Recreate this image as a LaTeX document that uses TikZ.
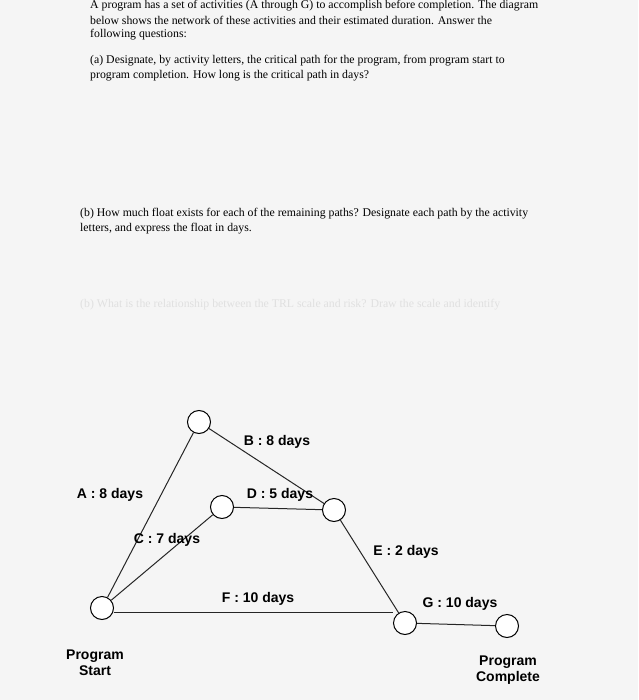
\documentclass[tikz,border=0pt]{standalone}
\usepackage{fontspec}
\setmainfont{Liberation Serif}
\newfontfamily\lab{Liberation Sans}
\begin{document}
\begin{tikzpicture}[x=1pt,y=-1pt,
  ev/.style={circle,draw,line width=1pt,minimum size=23pt,inner sep=0pt,fill=white},
  lbl/.style={font=\lab\bfseries\fontsize{14}{16}\selectfont,inner sep=1pt},
  txt/.style={anchor=west,font=\fontsize{11.8}{13}\selectfont,inner sep=0pt},
  arc/.style={line width=1pt,draw=black!85}]
\useasboundingbox (0,0) rectangle (638,700);
\fill[black!4] (0,0) rectangle (638,700);
\node[txt] (t1) at (90,6) {A program has a set of activities (A through G) to accomplish before completion. The diagram};
\node[txt] (t2) at (90,20) {below shows the network of these activities and their estimated duration. Answer the};
\node[txt] (t3) at (90,35) {following questions:};
\node[txt] (t4) at (90,61) {(a) Designate, by activity letters, the critical path for the program, from program start to};
\node[txt] (t5) at (90,76) {program completion. How long is the critical path in days?};
\node[txt] (t6) at (80,214) {(b) How much float exists for each of the remaining paths? Designate each path by the activity};
\node[txt] (t7) at (80,229) {letters, and express the float in days.};
\node[txt,text=black!12] (t8) at (80,305) {(b) What is the relationship between the TRL scale and risk? Draw the scale and identify};

\node[ev] (s) at (102,608) {};
\node[ev] (n1) at (199,422) {};
\node[ev] (n2) at (222,507) {};
\node[ev] (n3) at (334,510) {};
\node[ev] (n4) at (405,623) {};
\node[ev] (f) at (507,626) {};
\draw[arc] (s) -- (n1);
\draw[arc] (n1) -- (n3);
\draw[arc] (s) -- (n2);
\draw[arc] (n2) -- (n3);
\draw[arc] (n3) -- (n4);
\draw[arc] (s.east) ++(0,4) coordinate (sa) -- (sa -| n4.west);
\draw[arc] (n4) -- (f);

\node[lbl] (lb) at (277,442) {B : 8 days};
\node[lbl] (la) at (110,495) {A : 8 days};
\node[lbl] (ld) at (280,495) {D : 5 days};
\node[lbl] (lc) at (167,540) {C : 7 days};
\node[lbl] (le) at (406,552) {E : 2 days};
\node[lbl] (lf) at (258,599) {F : 10 days};
\node[lbl] (lg) at (460,604) {G : 10 days};
\node[lbl,align=center] (ps) at (95,663) {Program\\Start};
\node[lbl,align=center] (pc) at (508,670) {Program\\Complete};
\end{tikzpicture}
\end{document}
